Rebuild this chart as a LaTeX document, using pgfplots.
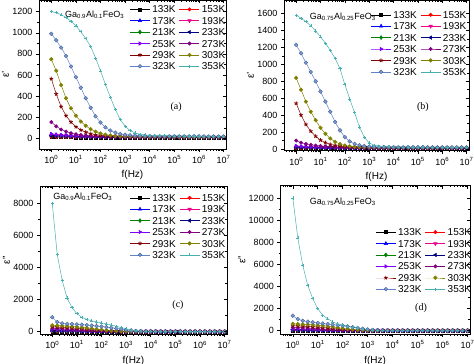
\documentclass[border=0pt]{standalone}
\usepackage{fontspec}
\setmainfont{Liberation Sans}
\newfontfamily\serif{Liberation Serif}
\usepackage{pgfplots}
\usepackage{pgfplotstable}
\pgfplotsset{compat=1.18}
\usetikzlibrary{plotmarks}

\definecolor{cwine}{RGB}{128,0,0}
\definecolor{cgreen}{RGB}{0,128,0}
\definecolor{cnavy}{RGB}{0,0,128}
\definecolor{cviolet}{RGB}{128,0,255}
\definecolor{cpurple}{RGB}{128,0,128}
\definecolor{colive}{RGB}{128,128,0}
\definecolor{csteel}{RGB}{80,120,195}
\definecolor{csteelL}{RGB}{95,130,200}
\definecolor{cteal}{RGB}{70,175,175}

% ---------- data (rows = series, transposed below) ----------
\pgfplotstableread{
name c0 c1 c2 c3 c4 c5 c6 c7 c8 c9 c10 c11 c12 c13 c14 c15 c16 c17 c18 c19 c20 c21 c22 c23 c24 c25 c26 c27 c28 c29 c30 c31 c32 c33 c34 c35
f 1 1.585 2.512 3.981 6.31 10 15.85 25.12 39.81 63.1 100 158.5 251.2 398.1 631 1000 1585 2512 3981 6310 1e4 1.585e4 2.512e4 3.981e4 6.31e4 1e5 1.585e5 2.512e5 3.981e5 6.31e5 1e6 1.585e6 2.512e6 3.981e6 6.31e6 1e7
t133 12 12 12 12 12 11 11 11 11 11 11 11 11 10 10 10 10 10 10 10 10 10 10 10 10 10 9 9 9 9 9 9 9 9 9 9
t153 15 15 14 14 14 13 13 13 13 12 12 12 12 12 12 11 11 11 11 11 11 11 11 11 11 10 10 10 10 10 10 10 10 10 10 10
t173 36 33 30 28 26 24 22 21 20 19 18 17 16 16 15 15 14 14 14 14 13 13 13 13 13 13 12 12 12 12 12 12 12 12 12 12
t193 32 30 28 26 24 23 21 20 19 18 17 16 16 15 15 14 14 14 13 13 13 13 13 13 12 12 12 12 12 12 12 12 12 12 12 12
t213 28 26 24 23 22 21 20 19 18 17 16 16 15 15 14 14 14 13 13 13 13 13 12 12 12 12 12 12 12 12 11 11 11 11 11 11
t233 24 23 22 21 20 19 18 17 17 16 16 15 15 14 14 14 13 13 13 13 13 12 12 12 12 12 12 12 12 11 11 11 11 11 11 11
t253 42 36 32 29 26 24 22 20 19 18 17 16 15 15 14 14 14 13 13 13 13 13 13 12 12 12 12 12 12 12 12 12 12 12 12 12
t273 155 115 85 65 50 40 33 28 24 21 19 17 16 15 15 14 14 14 13 13 13 13 13 13 13 13 12 12 12 12 12 12 12 12 12 12
t293 565 420 300 215 155 110 80 60 45 35 28 23 20 18 17 16 15 15 14 14 14 14 14 14 13 13 13 13 13 13 13 13 13 13 13 13
t303 750 640 505 380 285 215 160 120 88 64 47 36 29 24 21 20 19 18 17 17 16 16 16 15 15 15 15 15 14 14 14 14 14 14 14 14
t323 990 930 860 780 680 580 480 380 290 210 150 105 75 55 42 35 30 27 25 24 23 22 22 21 21 21 20 20 20 20 19 19 19 19 18 18
t353 1200 1190 1170 1145 1110 1065 1010 945 870 760 640 510 390 275 180 115 75 52 40 33 30 28 27 26 25 25 24 24 23 23 23 22 22 22 22 21
}\rawA
\pgfplotstableread{
name c0 c1 c2 c3 c4 c5 c6 c7 c8 c9 c10 c11 c12 c13 c14 c15 c16 c17 c18 c19 c20 c21 c22 c23 c24 c25 c26 c27 c28 c29 c30 c31 c32 c33 c34 c35
f 1 1.585 2.512 3.981 6.31 10 15.85 25.12 39.81 63.1 100 158.5 251.2 398.1 631 1000 1585 2512 3981 6310 1e4 1.585e4 2.512e4 3.981e4 6.31e4 1e5 1.585e5 2.512e5 3.981e5 6.31e5 1e6 1.585e6 2.512e6 3.981e6 6.31e6 1e7
t133 10 10 10 10 9 9 9 9 9 9 9 9 9 9 9 9 8 8 8 8 8 8 8 8 8 8 8 8 8 8 8 8 8 8 8 8
t153 13 13 12 12 12 12 11 11 11 11 11 11 10 10 10 10 10 10 10 10 10 10 10 10 10 9 9 9 9 9 9 9 9 9 9 9
t173 28 26 24 22 21 20 19 18 17 16 15 15 14 14 13 13 13 12 12 12 12 12 12 12 11 11 11 11 11 11 11 11 11 11 11 11
t193 25 23 22 21 20 19 18 17 16 15 15 14 14 13 13 13 12 12 12 12 12 12 11 11 11 11 11 11 11 11 11 11 11 11 11 11
t213 22 21 20 19 18 17 16 16 15 15 14 14 13 13 13 12 12 12 12 12 11 11 11 11 11 11 11 11 11 10 10 10 10 10 10 10
t233 20 19 18 18 17 16 16 15 15 14 14 13 13 13 12 12 12 12 12 11 11 11 11 11 11 11 11 10 10 10 10 10 10 10 10 10
t253 35 30 27 24 22 20 19 18 17 16 15 15 14 14 13 13 13 13 12 12 12 12 12 12 12 12 11 11 11 11 11 11 11 11 11 11
t273 100 75 60 50 42 36 31 27 24 22 20 18 17 16 15 15 14 14 14 13 13 13 13 13 13 12 12 12 12 12 12 12 12 12 12 12
t293 540 400 290 210 150 105 75 55 42 33 27 23 20 18 17 16 15 15 15 14 14 14 14 14 14 13 13 13 13 13 13 13 13 13 13 13
t303 840 700 560 440 340 250 180 125 85 58 42 32 26 23 21 20 19 18 18 17 17 17 16 16 16 16 16 15 15 15 15 15 15 15 15 15
t323 1230 1130 1020 910 800 680 560 440 320 220 140 90 60 44 35 30 27 25 24 23 22 22 21 21 21 20 20 20 20 20 19 19 19 19 19 19
t353 1580 1545 1505 1455 1395 1325 1250 1165 1070 950 760 590 430 260 140 70 45 34 29 27 26 25 24 24 23 23 23 22 22 22 21 21 21 21 20 20
}\rawB
\pgfplotstableread{
name c0 c1 c2 c3 c4 c5 c6 c7 c8 c9 c10 c11 c12 c13 c14 c15 c16 c17 c18 c19 c20 c21 c22 c23 c24 c25 c26 c27 c28 c29 c30 c31 c32 c33 c34 c35
f 1 1.585 2.512 3.981 6.31 10 15.85 25.12 39.81 63.1 100 158.5 251.2 398.1 631 1000 1585 2512 3981 6310 1e4 1.585e4 2.512e4 3.981e4 6.31e4 1e5 1.585e5 2.512e5 3.981e5 6.31e5 1e6 1.585e6 2.512e6 3.981e6 6.31e6 1e7
t133 20 18 16 14 12 11 10 9 8 7 6 6 5 5 4 4 4 3 3 3 3 3 3 3 2 2 2 2 2 2 2 2 2 2 2 2
t153 30 27 24 21 19 17 15 13 11 10 9 8 7 6 5 5 4 4 4 3 3 3 3 3 3 3 2 2 2 2 2 2 2 2 2 2
t173 60 52 45 39 34 30 26 22 19 16 14 12 10 9 8 7 6 5 5 4 4 4 3 3 3 3 3 3 3 3 2 2 2 2 2 2
t193 50 44 38 33 29 25 22 19 16 14 12 10 9 8 7 6 5 5 4 4 4 3 3 3 3 3 3 3 3 2 2 2 2 2 2 2
t213 80 70 61 53 46 40 34 29 25 21 18 15 12 10 9 8 7 6 5 5 4 4 4 3 3 3 3 3 3 3 3 3 3 3 3 3
t233 110 98 87 77 67 58 50 42 35 29 24 19 15 12 10 8 7 6 5 5 4 4 4 3 3 3 3 3 3 3 3 3 3 3 3 3
t253 150 140 128 115 102 90 78 66 55 45 36 28 22 17 13 10 8 7 6 5 5 4 4 4 3 3 3 3 3 3 3 3 3 3 3 3
t273 220 205 188 170 150 128 106 85 65 48 35 25 18 13 10 8 7 6 5 5 4 4 4 4 3 3 3 3 3 3 3 3 3 3 3 3
t293 300 285 268 250 228 204 178 150 122 95 70 50 35 25 18 13 10 8 7 6 5 5 4 4 4 4 3 3 3 3 3 3 3 3 3 3
t303 400 385 368 350 328 302 272 238 200 160 122 88 60 40 27 19 14 11 9 7 6 5 5 4 4 4 4 3 3 3 3 3 3 3 3 3
t323 900 600 520 490 475 460 440 415 385 355 320 285 245 205 160 115 78 50 32 21 15 12 10 8 7 6 5 5 4 4 4 3 3 3 3 3
t353 7950 4800 3200 2100 1500 1120 900 770 680 610 550 490 420 340 255 175 110 68 42 28 20 16 13 11 10 9 8 7 6 6 5 5 5 4 4 4
}\rawC
\pgfplotstableread{
name c0 c1 c2 c3 c4 c5 c6 c7 c8 c9 c10 c11 c12 c13 c14 c15 c16 c17 c18 c19 c20 c21 c22 c23 c24 c25 c26 c27 c28 c29 c30 c31 c32 c33 c34 c35
f 1 1.585 2.512 3.981 6.31 10 15.85 25.12 39.81 63.1 100 158.5 251.2 398.1 631 1000 1585 2512 3981 6310 1e4 1.585e4 2.512e4 3.981e4 6.31e4 1e5 1.585e5 2.512e5 3.981e5 6.31e5 1e6 1.585e6 2.512e6 3.981e6 6.31e6 1e7
t133 20 18 16 14 12 11 10 9 8 7 6 6 5 5 4 4 4 3 3 3 3 3 3 3 2 2 2 2 2 2 2 2 2 2 2 2
t153 35 31 27 24 21 18 16 14 12 10 9 8 7 6 5 5 4 4 4 3 3 3 3 3 3 3 2 2 2 2 2 2 2 2 2 2
t173 55 48 42 37 32 28 24 21 18 15 13 11 9 8 7 6 5 5 4 4 4 3 3 3 3 3 3 3 3 3 2 2 2 2 2 2
t193 45 40 35 31 27 24 21 18 15 13 11 10 8 7 6 6 5 5 4 4 4 3 3 3 3 3 3 3 3 2 2 2 2 2 2 2
t213 80 71 63 55 48 42 36 31 26 22 18 15 12 10 9 8 7 6 5 5 4 4 4 3 3 3 3 3 3 3 3 3 3 3 3 3
t233 110 100 90 80 70 61 52 44 37 30 24 19 15 12 10 8 7 6 5 5 4 4 4 3 3 3 3 3 3 3 3 3 3 3 3 3
t253 160 150 140 128 115 100 86 72 58 46 36 27 20 15 11 9 7 6 5 5 4 4 4 4 3 3 3 3 3 3 3 3 3 3 3 3
t273 300 280 260 235 205 175 140 105 75 52 35 24 17 12 9 7 6 5 5 4 4 4 4 3 3 3 3 3 3 3 3 3 3 3 3 3
t293 450 430 410 385 355 320 280 235 185 140 100 68 45 30 20 14 11 9 7 6 5 5 4 4 4 4 3 3 3 3 3 3 3 3 3 3
t303 620 600 580 560 530 500 460 410 350 280 210 150 100 65 42 28 20 15 12 10 8 7 6 5 5 4 4 4 4 3 3 3 3 3 3 3
t323 1350 1050 900 820 760 700 650 600 550 500 450 390 320 250 180 120 75 48 32 22 16 13 11 9 8 7 6 5 5 4 4 4 3 3 3 3
t353 12000 8400 5900 4100 2900 2000 1400 1080 800 620 510 410 320 240 160 100 62 40 28 21 17 14 12 10 9 8 7 6 6 5 5 5 4 4 4 4
}\rawD
\pgfplotstabletranspose[colnames from=name]\tabA\rawA
\pgfplotstabletranspose[colnames from=name]\tabB\rawB
\pgfplotstabletranspose[colnames from=name]\tabC\rawC
\pgfplotstabletranspose[colnames from=name]\tabD\rawD

\pgfplotsset{
 s133/.style={black, mark=square*, mark size=1.5pt},
 s153/.style={red, mark=*, mark size=1.7pt},
 s173/.style={blue, mark=triangle*, mark size=2pt},
 s193/.style={magenta, mark=triangle*, mark size=2pt, mark options={rotate=180}},
 s213/.style={cgreen, mark=diamond*, mark size=2pt},
 s233/.style={cnavy, mark=triangle*, mark size=2pt, mark options={rotate=90}},
 s253/.style={cviolet, mark=triangle*, mark size=2pt, mark options={rotate=-90}},
 s273/.style={cpurple, mark=*, mark size=1.7pt},
 s293/.style={cwine, mark=star, mark size=2pt, mark options={line width=0.8pt}},
 s303/.style={colive, mark=*, mark size=1.8pt},
 s323/.style={csteelL, mark=*, mark size=1.9pt, mark options={fill=csteel!75!white, draw=csteel!75!black, line width=0.35pt}},
 s353/.style={cteal, mark=+, mark size=1.6pt},
}

\newcommand\allplots[1]{%
 \addplot[s133] table[x=f,y=t133]{#1};
 \addplot[s153] table[x=f,y=t153]{#1};
 \addplot[s173] table[x=f,y=t173]{#1};
 \addplot[s193] table[x=f,y=t193]{#1};
 \addplot[s213] table[x=f,y=t213]{#1};
 \addplot[s233] table[x=f,y=t233]{#1};
 \addplot[s253] table[x=f,y=t253]{#1};
 \addplot[s273] table[x=f,y=t273]{#1};
 \addplot[s293] table[x=f,y=t293]{#1};
 \addplot[s303] table[x=f,y=t303]{#1};
 \addplot[s323] table[x=f,y=t323]{#1};
 \addplot[s353] table[x=f,y=t353]{#1};
 \legend{133K,153K,173K,193K,213K,233K,253K,273K,293K,303K,323K,353K}
}

\pgfplotsset{
 every axis/.append style={
  scale only axis,
  xmin=0.3162, xmax=1.259e7,
  xtick={1,10,100,1000,1e4,1e5,1e6,1e7},
  minor xtick={0.4,0.5,0.6,0.7,0.8,0.9,2,3,4,5,6,7,8,9,20,30,40,50,60,70,80,90,200,300,400,500,600,700,800,900,2000,3000,4000,5000,6000,7000,8000,9000,2e4,3e4,4e4,5e4,6e4,7e4,8e4,9e4,2e5,3e5,4e5,5e5,6e5,7e5,8e5,9e5,2e6,3e6,4e6,5e6,6e6,7e6,8e6,9e6},
  minor y tick num=1,
  major tick length=3pt, minor tick length=1.6pt,
  tick style={black, line width=0.5pt},
  axis line style={black, line width=0.6pt},
  anchor=south west,
  /pgf/number format/assume math mode=true,
  /pgf/number format/1000 sep={},
  scaled y ticks=false,
  tick label style={font=\fontsize{9}{10}\selectfont},
  label style={font=\fontsize{10}{11}\selectfont},
  ylabel shift=-3.5pt,
  clip=false,
  legend columns=2,
  legend cell align=left,
  legend style={draw=none, fill=none, inner sep=0pt, row sep=3pt,
    font=\fontsize{10}{11}\selectfont,
    nodes={inner sep=0.6pt, text height=7.2pt, text depth=0pt},
    /tikz/every odd column/.append style={column sep=1.5pt},
    /tikz/every even column/.append style={column sep=3pt}},
  legend image code/.code={\draw[mark repeat=2,mark phase=2,#1] plot coordinates {(0pt,0pt) (10pt,0pt) (20pt,0pt)};},
 },
 every axis plot/.append style={line width=0.5pt},
}

\begin{document}
\begin{tikzpicture}[x=1pt,y=1pt]
% (a)
\begin{axis}[xmode=log, at={(39pt,-149pt)}, width=187pt, height=149pt, ymin=-100, ymax=1310, ytick={0,200,...,1200},
  tick align=outside, xtick pos=left, ytick pos=left, xlabel={f(Hz)}, ylabel={ε'},
  xticklabels={10\textsuperscript{0},10\textsuperscript{1},10\textsuperscript{2},10\textsuperscript{3},10\textsuperscript{4},10\textsuperscript{5},10\textsuperscript{6},10\textsuperscript{7}},
  legend style={at={(1.0,0.967)}, anchor=north east}]
\allplots{\tabA}
\node[anchor=west, inner sep=0pt, font=\fontsize{9}{10}\selectfont] at (rel axis cs:0.139,0.899) {Ga\textsubscript{0.9}Al\textsubscript{0.1}FeO\textsubscript{3}};
\node[font=\serif\fontsize{10}{12}\selectfont] at (rel axis cs:0.733,0.282) {(a)};
\end{axis}
\begin{axis}[xmode=log, at={(39pt,-149pt)}, width=187pt, height=149pt, ymin=-100, ymax=1310, ytick={0,200,...,1200},
  tick align=inside, xtick pos=right, ytick pos=right, xticklabels={}, yticklabels={}]
\end{axis}
% (b)
\begin{axis}[xmode=log, at={(284pt,-150.7pt)}, width=185pt, height=150.7pt, ymin=-20, ymax=1760, ytick={0,200,...,1600},
  tick align=outside, xtick pos=left, ytick pos=left, xlabel={f(Hz)}, ylabel={ε'},
  xticklabels={10\textsuperscript{0},10\textsuperscript{1},10\textsuperscript{2},10\textsuperscript{3},10\textsuperscript{4},10\textsuperscript{5},10\textsuperscript{6},10\textsuperscript{7}},
  legend style={at={(0.99,0.931)}, anchor=north east}]
\allplots{\tabB}
\node[anchor=west, inner sep=0pt, font=\fontsize{9}{10}\selectfont] at (rel axis cs:0.139,0.889) {Ga\textsubscript{0.75}Al\textsubscript{0.25}FeO\textsubscript{3}};
\node[font=\serif\fontsize{10}{12}\selectfont] at (rel axis cs:0.751,0.291) {(b)};
\end{axis}
\begin{axis}[xmode=log, at={(284pt,-150.7pt)}, width=185pt, height=150.7pt, ymin=-20, ymax=1760, ytick={0,200,...,1600},
  tick align=inside, xtick pos=right, ytick pos=right, xticklabels={}, yticklabels={}]
\end{axis}
% (c)
\begin{axis}[xmode=log, at={(40pt,-334.3pt)}, width=187pt, height=148.3pt, ymin=-160, ymax=9050, ytick={0,2000,...,8000},
  tick align=outside, xtick pos=left, ytick pos=left, xlabel={f(Hz)}, ylabel={ε''},
  xticklabels={10\textsuperscript{0},10\textsuperscript{1},10\textsuperscript{2},10\textsuperscript{3},10\textsuperscript{4},10\textsuperscript{5},10\textsuperscript{6},10\textsuperscript{7}},
  legend style={at={(0.995,0.95)}, anchor=north east}]
\allplots{\tabC}
\node[anchor=west, inner sep=0pt, font=\fontsize{9}{10}\selectfont] at (rel axis cs:0.07,0.926) {Ga\textsubscript{0.9}Al\textsubscript{0.1}FeO\textsubscript{3}};
\node[font=\serif\fontsize{10}{12}\selectfont] at (rel axis cs:0.738,0.198) {(c)};
\end{axis}
\begin{axis}[xmode=log, at={(40pt,-334.3pt)}, width=187pt, height=148.3pt, ymin=-160, ymax=9050, ytick={0,2000,...,8000},
  tick align=inside, xtick pos=right, ytick pos=right, xticklabels={}, yticklabels={}]
\end{axis}
% (d)
\begin{axis}[xmode=log, at={(280.3pt,-334.3pt)}, width=189.7pt, height=148.6pt, ymin=-325, ymax=13110, ytick={0,2000,...,12000},
  tick align=outside, xtick pos=left, ytick pos=left, xlabel={f(Hz)}, ylabel={ε''},
  xticklabels={10\textsuperscript{0},10\textsuperscript{1},10\textsuperscript{2},10\textsuperscript{3},10\textsuperscript{4},10\textsuperscript{5},10\textsuperscript{6},10\textsuperscript{7}},
  legend style={at={(1.01,0.717)}, anchor=north east}]
\allplots{\tabD}
\node[anchor=west, inner sep=0pt, font=\fontsize{9}{10}\selectfont] at (rel axis cs:0.155,0.89) {Ga\textsubscript{0.75}Al\textsubscript{0.25}FeO\textsubscript{3}};
\node[font=\serif\fontsize{10}{12}\selectfont] at (rel axis cs:0.742,0.179) {(d)};
\end{axis}
\begin{axis}[xmode=log, at={(280.3pt,-334.3pt)}, width=189.7pt, height=148.6pt, ymin=-325, ymax=13110, ytick={0,2000,...,12000},
  tick align=inside, xtick pos=right, ytick pos=right, xticklabels={}, yticklabels={}]
\end{axis}
\pgfresetboundingbox
\path[use as bounding box] (0pt,0pt) rectangle (474pt,-364pt);
\end{tikzpicture}
\end{document}
